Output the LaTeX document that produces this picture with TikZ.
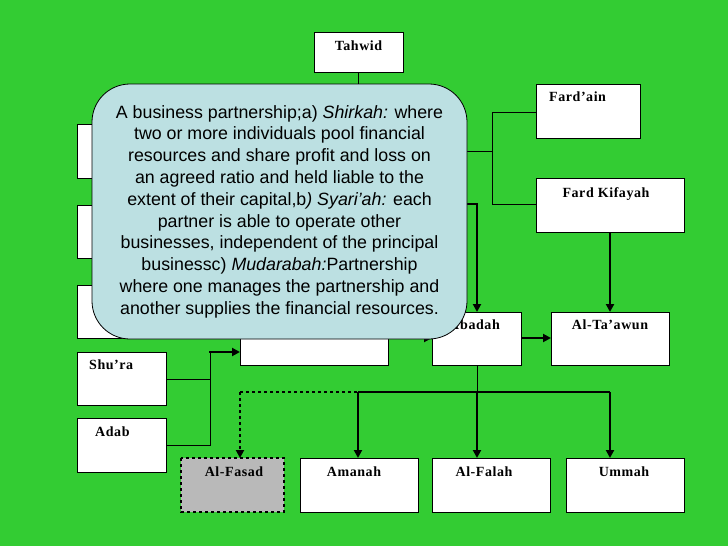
\documentclass[tikz,border=0pt]{standalone}
\usepackage{fontspec}
\setmainfont[LetterSpace=4]{Liberation Serif}
\newfontfamily\callfont{Liberation Sans}
\usetikzlibrary{arrows.meta}
\definecolor{bg}{HTML}{33CC33}
\definecolor{callc}{HTML}{BCE0E2}
\begin{document}
\begin{tikzpicture}[x=1pt,y=-1pt,
  lab/.style={font=\bfseries\fontsize{14}{16}\selectfont,anchor=north,inner sep=0pt},
  thin/.style={line width=0.9pt},
  thk/.style={line width=2pt,-{Triangle[length=8pt,width=8pt]}}]
\fill[bg] (0,0) rectangle (728,546);
\useasboundingbox (0,0) rectangle (728,546);
\draw[line width=0.8pt,fill=white] (314,32) rectangle (403,72); \node (tahwid) at (358.5,52) {};
\node[lab] (tahwidl) at (358.5,41) {Tahwid};
\draw[line width=0.8pt,fill=white] (536,84) rectangle (640,138); \node[lab,anchor=north west] (fa) at (549,92) {Fard’ain};
\draw[line width=0.8pt,fill=white] (536,178) rectangle (684,232); \node[lab] (fk) at (606,187) {Fard Kifayah};
\draw[line width=0.8pt,fill=white] (77,124) rectangle (166,178);
\draw[line width=0.8pt,fill=white] (77,205) rectangle (166,258);
\draw[line width=0.8pt,fill=white] (77,285) rectangle (166,338);
\draw[line width=0.8pt,fill=white] (77,352) rectangle (166,405); \node[lab,anchor=north west] (shura) at (89,360) {Shu’ra};
\draw[line width=0.8pt,fill=white] (77,418) rectangle (166,472); \node[lab,anchor=north west] (adab) at (95,427) {Adab};
\draw[line width=0.8pt,fill=white] (240,312) rectangle (388,365); \node (mid) at (314,338) {};
\draw[line width=0.8pt,fill=white] (432,312) rectangle (521,365); \node[lab] (ibadah) at (477,320) {Ibadah};
\draw[line width=0.8pt,fill=white] (551,312) rectangle (669,365); \node[lab] (taawun) at (610,320) {Al-Ta’awun};
\draw[line width=1.5pt,dashed,fill=gray!55] (181,458) rectangle (284,512); \node[lab] (fasad) at (234,467) {Al-Fasad};
\draw[line width=0.8pt,fill=white] (300,458) rectangle (418,512); \node[lab] (amanah) at (354,467) {Amanah};
\draw[line width=0.8pt,fill=white] (432,458) rectangle (550,512); \node[lab] (falah) at (484,467) {Al-Falah};
\draw[line width=0.8pt,fill=white] (566,458) rectangle (684,512); \node[lab] (ummah) at (624,467) {Ummah};
% connectors
\coordinate (j1) at (492,151);
\draw[thin] (358,72) -- (358,100);
\draw[thin] (460,151) -- (j1);
\draw[thin] (492,112) -- (536,112);
\draw[thin] (492,112) -- (492,204) -- (536,204);
\draw[thk] (460,204) -- (477,204) -- (477,312);
\draw[thk] (610,232) -- (610,312);
\draw[thk] (521,338) -- (551,338);
\draw[thk] (388,338) -- (432,338);
\draw[thin] (166,379) -- (210,379);
\draw[thin] (166,445) -- (210,445) -- (210,352);
\draw[thk] (209,352) -- (240,352);
\draw[thin] (477,365) -- (477,392);
\draw[line width=2pt] (358,392) -- (610,392);
\draw[line width=2pt,dashed] (240,392) -- (358,392);
\draw[thk,dashed] (240,392) -- (240,458);
\draw[thk] (358,392) -- (358,458);
\draw[thk] (477,392) -- (477,458);
\draw[thk] (610,392) -- (610,458);
% callout
\node[draw=black,line width=0.8pt,fill=callc,rounded corners=38pt,minimum width=375pt,minimum height=255pt,
  align=center,font=\callfont\fontsize{17.8}{21.8}\selectfont,inner sep=0pt] (call) at (279.5,211.5)
{A business partnership;a) \textit{Shirkah:} where\\ two or more individuals pool financial\\ resources and share profit and loss on\\ an agreed ratio and held liable to the\\ extent of their capital,b\textit{) Syari’ah:} each\\ partner is able to operate other\\ businesses, independent of the principal\\ businessc) \textit{Mudarabah:}Partnership\\ where one manages the partnership and\\ another supplies the financial resources.};
\end{tikzpicture}
\end{document}
